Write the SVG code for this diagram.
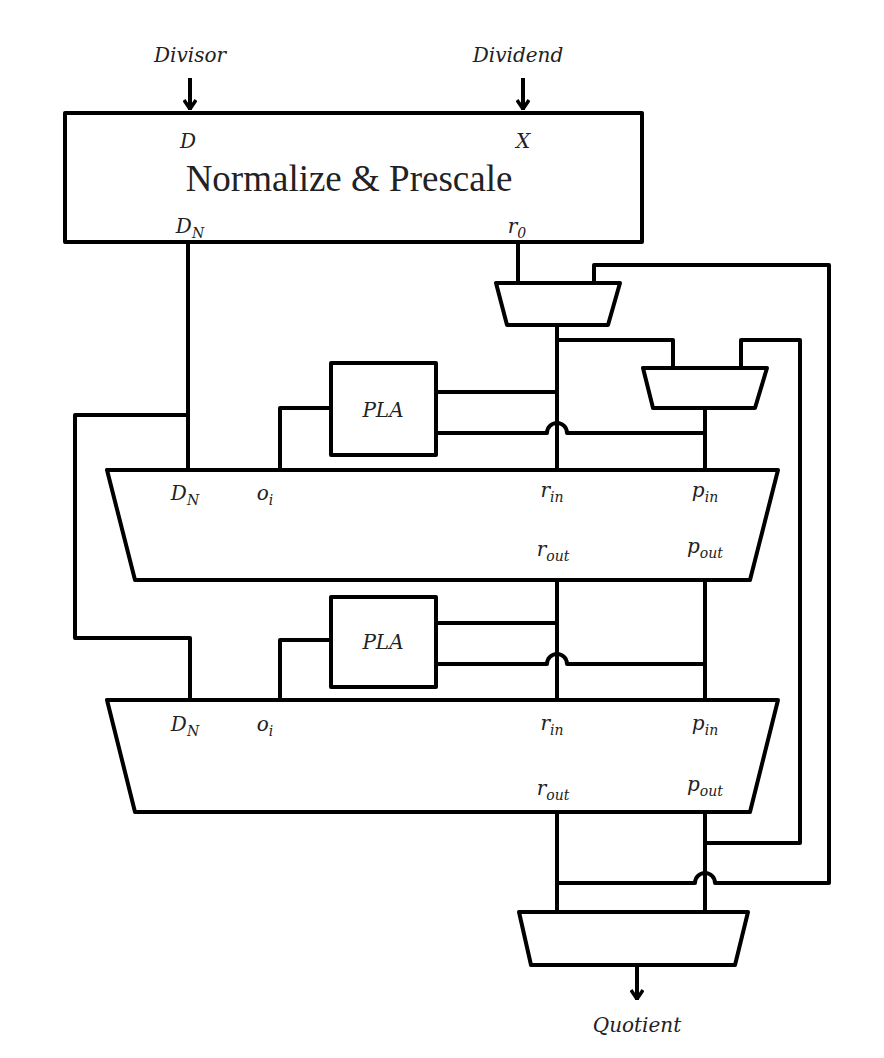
<svg xmlns="http://www.w3.org/2000/svg" width="884" height="1058" viewBox="0 0 884 1058">
<style>
.s{fill:none;stroke:#000;stroke-width:4;stroke-linejoin:round}
.b{fill:#fff;stroke:#000;stroke-width:4;stroke-linejoin:round}
.t{font-family:"DejaVu Serif",serif;font-style:italic;font-size:20px;fill:#222;text-anchor:middle}
.sub{font-size:14px}
</style>
<defs><marker id="ah" viewBox="0 0 12 14" refX="12" refY="7" markerWidth="12" markerHeight="14" markerUnits="userSpaceOnUse" orient="auto"><path d="M2,1 L11,7 L2,13" fill="none" stroke="#000" stroke-width="3.5"/></marker></defs>
<g id="connectors" class="s">
<path d="M190,78 V110" marker-end="url(#ah)"/>
<path d="M523,78 V110" marker-end="url(#ah)"/>
<path d="M188,242 V470"/>
<path d="M188,415 H75 V638 H190 V700"/>
<path d="M518,242 V283"/>
<path d="M594,283 V265 H829 V883 H715 A10,10 0 0 0 695,883 H557"/>
<path d="M557,325 V470"/>
<path d="M557,340 H673 V368"/>
<path d="M741,368 V340 H800 V843 H705"/>
<path d="M705,408 V470"/>
<path d="M436,392 H557"/>
<path d="M436,433 H547 A10,10 0 0 1 567,433 H705"/>
<path d="M331,408 H280 V470"/>
<path d="M557,580 V700"/>
<path d="M705,580 V700"/>
<path d="M436,623 H557"/>
<path d="M436,664 H547 A10,10 0 0 1 567,664 H705"/>
<path d="M331,640 H280 V700"/>
<path d="M557,812 V912"/>
<path d="M705,812 V912"/>
<path d="M637,965 V1000" marker-end="url(#ah)"/>
</g>
<g id="normalize">
<rect class="b" x="65" y="113" width="577" height="129"/>
<text class="t" x="188" y="148" font-size="18">D</text>
<text class="t" x="523" y="148">X</text>
<text x="349" y="191" font-family="Liberation Serif,serif" font-size="37" text-anchor="middle" fill="#222">Normalize &amp; Prescale</text>
<text class="t" x="190" y="233">D<tspan class="sub" dy="5">N</tspan></text>
<text class="t" x="517" y="233">r<tspan class="sub" dy="5">0</tspan></text>
</g>
<g id="mux1"><path class="b" d="M496,283 H620 L608,325 H507 Z"/></g>
<g id="mux2"><path class="b" d="M643,368 H767 L755,408 H653 Z"/></g>
<g id="pla1"><rect class="b" x="331" y="363" width="105" height="92"/><text class="t" x="383" y="417">PLA</text></g>
<g id="pla2"><rect class="b" x="331" y="597" width="105" height="90"/><text class="t" x="383" y="649">PLA</text></g>
<g id="stage1">
<path class="b" d="M107,470 H778 L750,580 H135 Z"/>
<text class="t" x="185" y="500">D<tspan class="sub" dy="5">N</tspan></text>
<text class="t" x="265" y="500">o<tspan class="sub" dy="5">i</tspan></text>
<text class="t" x="552" y="497">r<tspan class="sub" dy="5">in</tspan></text>
<text class="t" x="705" y="497">p<tspan class="sub" dy="5">in</tspan></text>
<text class="t" x="553" y="556">r<tspan class="sub" dy="5">out</tspan></text>
<text class="t" x="705" y="553">p<tspan class="sub" dy="5">out</tspan></text>
</g>
<g id="stage2">
<path class="b" d="M107,700 H778 L750,812 H135 Z"/>
<text class="t" x="185" y="731">D<tspan class="sub" dy="5">N</tspan></text>
<text class="t" x="265" y="731">o<tspan class="sub" dy="5">i</tspan></text>
<text class="t" x="552" y="730">r<tspan class="sub" dy="5">in</tspan></text>
<text class="t" x="705" y="730">p<tspan class="sub" dy="5">in</tspan></text>
<text class="t" x="553" y="795">r<tspan class="sub" dy="5">out</tspan></text>
<text class="t" x="705" y="791">p<tspan class="sub" dy="5">out</tspan></text>
</g>
<g id="mux3"><path class="b" d="M519,912 H748 L735,965 H531 Z"/></g>
<g id="labels">
<text class="t" x="190" y="62">Divisor</text>
<text class="t" x="518" y="62">Dividend</text>
<text class="t" x="637" y="1032">Quotient</text>
</g>
</svg>
